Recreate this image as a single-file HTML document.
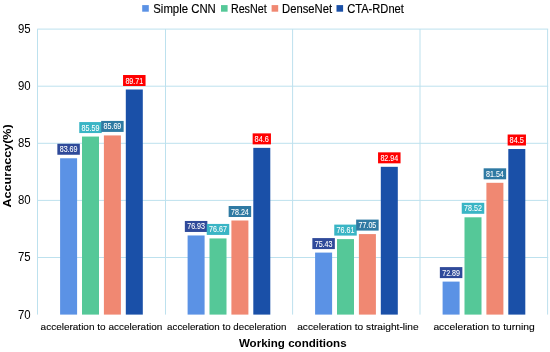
<!DOCTYPE html>
<html><head><meta charset="utf-8"><title>chart</title>
<style>html,body{margin:0;padding:0;background:#fff}body{width:550px;height:352px;overflow:hidden}.t{font-family:"Liberation Sans","DejaVu Sans",sans-serif}</style>
</head><body>
<svg width="550" height="352" viewBox="0 0 550 352" style="display:block">
<rect width="550" height="352" fill="#fff"/>
<line x1="37.2" x2="548.2" y1="29.10" y2="29.10" stroke="#BDE1EE" stroke-width="1"/>
<text x="18.0" y="33.00" font-size="12.3" fill="#000" class="t" textLength="12.7" lengthAdjust="spacingAndGlyphs">95</text>
<line x1="37.2" x2="548.2" y1="86.20" y2="86.20" stroke="#BDE1EE" stroke-width="1"/>
<text x="18.0" y="90.10" font-size="12.3" fill="#000" class="t" textLength="12.7" lengthAdjust="spacingAndGlyphs">90</text>
<line x1="37.2" x2="548.2" y1="143.30" y2="143.30" stroke="#BDE1EE" stroke-width="1"/>
<text x="18.0" y="147.20" font-size="12.3" fill="#000" class="t" textLength="12.7" lengthAdjust="spacingAndGlyphs">85</text>
<line x1="37.2" x2="548.2" y1="200.40" y2="200.40" stroke="#BDE1EE" stroke-width="1"/>
<text x="18.0" y="204.30" font-size="12.3" fill="#000" class="t" textLength="12.7" lengthAdjust="spacingAndGlyphs">80</text>
<line x1="37.2" x2="548.2" y1="257.50" y2="257.50" stroke="#BDE1EE" stroke-width="1"/>
<text x="18.0" y="261.40" font-size="12.3" fill="#000" class="t" textLength="12.7" lengthAdjust="spacingAndGlyphs">75</text>
<text x="18.0" y="318.50" font-size="12.3" fill="#000" class="t" textLength="12.7" lengthAdjust="spacingAndGlyphs">70</text>
<line x1="37.5" x2="37.5" y1="29.1" y2="314.6" stroke="#BDE1EE" stroke-width="1"/>
<line x1="165.5" x2="165.5" y1="29.1" y2="314.6" stroke="#BDE1EE" stroke-width="1"/>
<line x1="292.6" x2="292.6" y1="29.1" y2="314.6" stroke="#BDE1EE" stroke-width="1"/>
<line x1="420.0" x2="420.0" y1="29.1" y2="314.6" stroke="#BDE1EE" stroke-width="1"/>
<line x1="547.6" x2="547.6" y1="29.1" y2="314.6" stroke="#BDE1EE" stroke-width="1"/>
<rect x="60.10" y="158.26" width="17.0" height="156.34" fill="#5B92E5"/>
<rect x="82.00" y="136.56" width="17.0" height="178.04" fill="#55C898"/>
<rect x="103.90" y="135.42" width="17.0" height="179.18" fill="#F08872"/>
<rect x="125.80" y="89.51" width="17.0" height="225.09" fill="#1A50A8"/>
<rect x="57.35" y="143.76" width="22.5" height="11.0" fill="#2F4A9A"/>
<text x="59.70" y="152.26" font-size="8.4" fill="#fff" stroke="#fff" stroke-width="0.08" class="t" textLength="17.8" lengthAdjust="spacingAndGlyphs">83.69</text>
<rect x="79.25" y="122.06" width="22.5" height="11.0" fill="#3AB5C5"/>
<text x="81.60" y="130.56" font-size="8.4" fill="#fff" stroke="#fff" stroke-width="0.08" class="t" textLength="17.8" lengthAdjust="spacingAndGlyphs">85.59</text>
<rect x="101.15" y="120.92" width="22.5" height="11.0" fill="#2F7AA3"/>
<text x="103.50" y="129.42" font-size="8.4" fill="#fff" stroke="#fff" stroke-width="0.08" class="t" textLength="17.8" lengthAdjust="spacingAndGlyphs">85.69</text>
<rect x="123.05" y="75.01" width="22.5" height="11.0" fill="#FF0000"/>
<text x="125.40" y="83.51" font-size="8.4" fill="#fff" stroke="#fff" stroke-width="0.08" class="t" textLength="17.8" lengthAdjust="spacingAndGlyphs">89.71</text>
<text x="40.6" y="330.2" font-size="9.8" fill="#000" stroke="#000" stroke-width="0.1" class="t" textLength="121.7" lengthAdjust="spacingAndGlyphs">acceleration to acceleration</text>
<rect x="187.60" y="235.46" width="17.0" height="79.14" fill="#5B92E5"/>
<rect x="209.50" y="238.43" width="17.0" height="76.17" fill="#55C898"/>
<rect x="231.40" y="220.50" width="17.0" height="94.10" fill="#F08872"/>
<rect x="253.30" y="147.87" width="17.0" height="166.73" fill="#1A50A8"/>
<rect x="184.85" y="220.96" width="22.5" height="11.0" fill="#2F4A9A"/>
<text x="187.20" y="229.46" font-size="8.4" fill="#fff" stroke="#fff" stroke-width="0.08" class="t" textLength="17.8" lengthAdjust="spacingAndGlyphs">76.93</text>
<rect x="206.75" y="223.93" width="22.5" height="11.0" fill="#3AB5C5"/>
<text x="209.10" y="232.43" font-size="8.4" fill="#fff" stroke="#fff" stroke-width="0.08" class="t" textLength="17.8" lengthAdjust="spacingAndGlyphs">76.67</text>
<rect x="228.65" y="206.00" width="22.5" height="11.0" fill="#2F7AA3"/>
<text x="231.00" y="214.50" font-size="8.4" fill="#fff" stroke="#fff" stroke-width="0.08" class="t" textLength="17.8" lengthAdjust="spacingAndGlyphs">78.24</text>
<rect x="252.65" y="133.37" width="18.3" height="11.0" fill="#FF0000"/>
<text x="254.60" y="141.87" font-size="8.4" fill="#fff" stroke="#fff" stroke-width="0.08" class="t" textLength="14.4" lengthAdjust="spacingAndGlyphs">84.6</text>
<text x="167.1" y="330.2" font-size="9.8" fill="#000" stroke="#000" stroke-width="0.1" class="t" textLength="119.4" lengthAdjust="spacingAndGlyphs">acceleration to deceleration</text>
<rect x="315.10" y="252.59" width="17.0" height="62.01" fill="#5B92E5"/>
<rect x="337.00" y="239.11" width="17.0" height="75.49" fill="#55C898"/>
<rect x="358.90" y="234.09" width="17.0" height="80.51" fill="#F08872"/>
<rect x="380.80" y="166.83" width="17.0" height="147.77" fill="#1A50A8"/>
<rect x="312.35" y="238.09" width="22.5" height="11.0" fill="#2F4A9A"/>
<text x="314.70" y="246.59" font-size="8.4" fill="#fff" stroke="#fff" stroke-width="0.08" class="t" textLength="17.8" lengthAdjust="spacingAndGlyphs">75.43</text>
<rect x="334.25" y="224.61" width="22.5" height="11.0" fill="#3AB5C5"/>
<text x="336.60" y="233.11" font-size="8.4" fill="#fff" stroke="#fff" stroke-width="0.08" class="t" textLength="17.8" lengthAdjust="spacingAndGlyphs">76.61</text>
<rect x="356.15" y="219.59" width="22.5" height="11.0" fill="#2F7AA3"/>
<text x="358.50" y="228.09" font-size="8.4" fill="#fff" stroke="#fff" stroke-width="0.08" class="t" textLength="17.8" lengthAdjust="spacingAndGlyphs">77.05</text>
<rect x="378.05" y="152.33" width="22.5" height="11.0" fill="#FF0000"/>
<text x="380.40" y="160.83" font-size="8.4" fill="#fff" stroke="#fff" stroke-width="0.08" class="t" textLength="17.8" lengthAdjust="spacingAndGlyphs">82.94</text>
<text x="297.2" y="330.2" font-size="9.8" fill="#000" stroke="#000" stroke-width="0.1" class="t" textLength="121.4" lengthAdjust="spacingAndGlyphs">acceleration to straight-line</text>
<rect x="442.60" y="281.60" width="17.0" height="33.00" fill="#5B92E5"/>
<rect x="464.50" y="217.30" width="17.0" height="97.30" fill="#55C898"/>
<rect x="486.40" y="182.81" width="17.0" height="131.79" fill="#F08872"/>
<rect x="508.30" y="149.01" width="17.0" height="165.59" fill="#1A50A8"/>
<rect x="439.85" y="267.10" width="22.5" height="11.0" fill="#2F4A9A"/>
<text x="442.20" y="275.60" font-size="8.4" fill="#fff" stroke="#fff" stroke-width="0.08" class="t" textLength="17.8" lengthAdjust="spacingAndGlyphs">72.89</text>
<rect x="461.75" y="202.80" width="22.5" height="11.0" fill="#3AB5C5"/>
<text x="464.10" y="211.30" font-size="8.4" fill="#fff" stroke="#fff" stroke-width="0.08" class="t" textLength="17.8" lengthAdjust="spacingAndGlyphs">78.52</text>
<rect x="483.65" y="168.31" width="22.5" height="11.0" fill="#2F7AA3"/>
<text x="486.00" y="176.81" font-size="8.4" fill="#fff" stroke="#fff" stroke-width="0.08" class="t" textLength="17.8" lengthAdjust="spacingAndGlyphs">81.54</text>
<rect x="507.65" y="134.51" width="18.3" height="11.0" fill="#FF0000"/>
<text x="509.60" y="143.01" font-size="8.4" fill="#fff" stroke="#fff" stroke-width="0.08" class="t" textLength="14.4" lengthAdjust="spacingAndGlyphs">84.5</text>
<text x="433.4" y="330.2" font-size="9.8" fill="#000" stroke="#000" stroke-width="0.1" class="t" textLength="101.3" lengthAdjust="spacingAndGlyphs">acceleration to turning</text>
<text x="238.9" y="346.6" font-size="11" font-weight="bold" fill="#000" class="t" textLength="107.7" lengthAdjust="spacingAndGlyphs">Working conditions</text>
<text transform="translate(10.7,207.5) rotate(-90)" font-size="11" font-weight="bold" fill="#000" class="t" textLength="83.2" lengthAdjust="spacingAndGlyphs">Accuraccy(%)</text>
<rect x="142.2" y="5.1" width="6.6" height="6.6" fill="#5B92E5"/>
<text x="153.3" y="12.5" font-size="12" fill="#000" stroke="#000" stroke-width="0.15" class="t" textLength="62.5" lengthAdjust="spacingAndGlyphs">Simple CNN</text>
<rect x="221" y="5.1" width="6.6" height="6.6" fill="#55C898"/>
<text x="230.9" y="12.5" font-size="12" fill="#000" stroke="#000" stroke-width="0.15" class="t" textLength="35.8" lengthAdjust="spacingAndGlyphs">ResNet</text>
<rect x="271.6" y="5.1" width="6.6" height="6.6" fill="#F08872"/>
<text x="282.1" y="12.5" font-size="12" fill="#000" stroke="#000" stroke-width="0.15" class="t" textLength="50.0" lengthAdjust="spacingAndGlyphs">DenseNet</text>
<rect x="336.5" y="5.1" width="6.6" height="6.6" fill="#1A50A8"/>
<text x="347.2" y="12.5" font-size="12" fill="#000" stroke="#000" stroke-width="0.15" class="t" textLength="56.7" lengthAdjust="spacingAndGlyphs">CTA-RDnet</text>
</svg>
</body></html>
